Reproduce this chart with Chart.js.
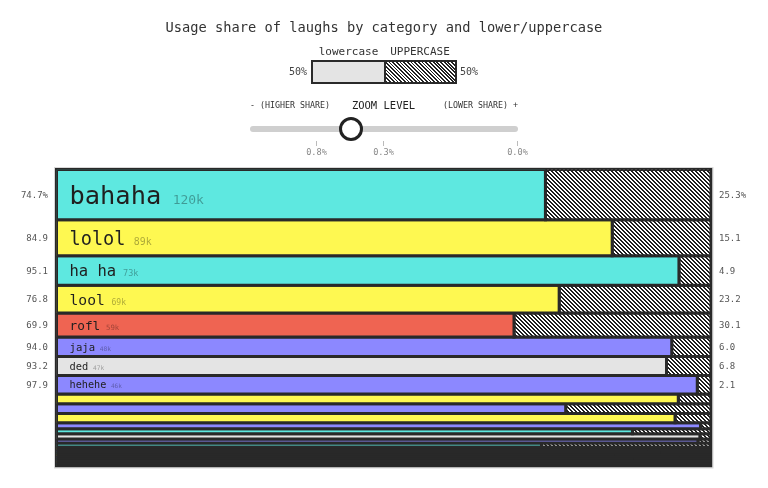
<!DOCTYPE html>
<html>
<head>
<meta charset="utf-8">
<script src="https://cdn.jsdelivr.net/npm/chart.js@4.4.1/dist/chart.umd.min.js"></script>
<style>
  html, body { margin: 0; padding: 0; background: #fff; }
  body { width: 768px; height: 488px; position: relative; overflow: hidden; font-family: "DejaVu Sans Mono", monospace; color: #333; }
  #c { position: absolute; left: 0; top: 0; }
  .abs { position: absolute; white-space: nowrap; }
  .cx { transform: translateX(-50%); }
  #title { left: 0; width: 768px; top: 18px; line-height: 18px; text-align: center; font-size: 13.7px; color: #333; }
  .leg { font-size: 11px; line-height: 14px; top: 45px; color: #333; }
  .pct { font-size: 10px; line-height: 14px; top: 64.5px; color: #444; }
  #box { left: 311px; top: 59.5px; width: 146px; height: 24px; border: 2px solid #2a2a2a; box-sizing: border-box; display: flex; }
  #box .lo { width: 71px; height: 100%; background: #e4e4e4; border-right: 2px solid #2a2a2a; }
  #box .up { flex: 1; height: 100%; background: repeating-linear-gradient(45deg, #222 0 1.3px, #fff 1.3px 2.6px); }
  .zl { font-size: 8.3px; line-height: 12px; top: 98.5px; color: #333; }
  #zoomlvl { font-size: 10.5px; line-height: 14px; top: 97.5px; color: #222; }
  #track { left: 250px; top: 125.5px; width: 268px; height: 6px; border-radius: 3px; background: #cfcfcf; }
  #knob { left: 338.5px; top: 116.5px; width: 24px; height: 24px; border-radius: 50%; border: 3px solid #222; background: #fff; box-sizing: border-box; }
  .tick { top: 141px; width: 1px; height: 5px; background: #bbb; }
  .tl { font-size: 8.6px; line-height: 12px; top: 146px; color: #888; }
</style>
</head>
<body>
<canvas id="c" width="768" height="488" style="width:768px;height:488px"></canvas>

<div id="title" class="abs">Usage share of laughs by category and lower/uppercase</div>
<div class="abs leg cx" style="left:348.5px">lowercase</div>
<div class="abs leg cx" style="left:420px">UPPERCASE</div>
<div class="abs pct" style="right:461px">50%</div>
<div id="box" class="abs"><div class="lo"></div><div class="up"></div></div>
<div class="abs pct" style="left:460px">50%</div>

<div class="abs zl" style="left:250px">- (HIGHER SHARE)</div>
<div id="zoomlvl" class="abs cx" style="left:383.5px">ZOOM LEVEL</div>
<div class="abs zl" style="right:250px">(LOWER SHARE) +</div>
<div id="track" class="abs"></div>
<div class="abs tick" style="left:316px"></div>
<div class="abs tick" style="left:383px"></div>
<div class="abs tick" style="left:517px"></div>
<div id="knob" class="abs"></div>
<div class="abs tl cx" style="left:316.5px">0.8%</div>
<div class="abs tl cx" style="left:383.5px">0.3%</div>
<div class="abs tl cx" style="left:517.5px">0.0%</div>

<script>
// ---- data ----
const categories = ['bahaha', 'lolol', 'ha ha', 'lool', 'rofl', 'jaja', 'ded', 'hehehe',
  '', '', '', '', '', '', '', '',
  '', '', '', '', '', '', '', '', '', '', ''];
// usage counts, thousands
const counts = [124, 89, 73, 69, 59, 48, 47, 46,
  24, 24, 23, 15, 12.5, 12.5, 10, 10,
  6, 6, 5, 5, 5, 4, 4, 4, 3, 3, 2];
// lowercase share, %
const lowerShare = [74.7, 84.9, 95.1, 76.8, 69.9, 94.0, 93.2, 97.9,
  95.0, 77.8, 94.5, 98.4, 88.0, 98.3, 98.0, 74.1,
  90, 92, 85, 95, 88, 93, 80, 96, 90, 94, 89];
// colour group of each category
const groupOf = ['ha', 'lol', 'ha', 'lol', 'rofl', 'other', 'ded', 'other',
  'lol', 'other', 'lol', 'other', 'ha', 'ded', 'other', 'ha',
  'lol', 'other', 'ha', 'lol', 'other', 'ha', 'ded', 'lol', 'other', 'ha', 'lol'];

// ---- styles ----
const groupColors = { ha: '#5ee8e0', lol: '#fef851', rofl: '#ef6452', other: '#8c88ff', ded: '#e4e4e4' };
const FRAME = '#292929';
const MONO = '"DejaVu Sans Mono", monospace';

function makeHatch() {
  const t = document.createElement('canvas');
  t.width = 4; t.height = 4;
  const g = t.getContext('2d');
  g.fillStyle = '#ffffff'; g.fillRect(0, 0, 4, 4);
  g.fillStyle = '#1e1e1e';
  for (let yy = 0; yy < 4; yy++) for (let xx = 0; xx < 4; xx++) {
    if (((xx - yy) % 4 + 4) % 4 < 2) g.fillRect(xx, yy, 1, 1);
  }
  return g.createPattern(t, 'repeat');
}
const hatch = makeHatch();

// cumulative starts
const starts = [];
let acc = 0;
counts.forEach(c => { starts.push(acc); acc += c; });
const total = acc;

function rect(x0, x1, y0, y1) {
  return [{x: x0, y: y0}, {x: x1, y: y0}, {x: x1, y: y1}, {x: x0, y: y1}, {x: x0, y: y0}];
}

const datasets = [];
counts.forEach((c, i) => {
  const y0 = starts[i], y1 = starts[i] + c, p = lowerShare[i];
  const common = { showLine: true, fill: 'shape', borderColor: FRAME, borderWidth: 3, pointRadius: 0, pointHoverRadius: 0, tension: 0, borderJoinStyle: 'miter' };
  datasets.push(Object.assign({ label: (categories[i] || 'row ' + i) + ' lowercase', data: rect(0, p, y0, y1), backgroundColor: groupColors[groupOf[i]] }, common));
  datasets.push(Object.assign({ label: (categories[i] || 'row ' + i) + ' UPPERCASE', data: rect(p, 100, y0, y1), backgroundColor: hatch }, common));
});

function fmtK(v) {
  const r = v >= 100 ? Math.round(v / 10) * 10 : Math.round(v);
  return r + 'k';
}

const framePlugin = {
  id: 'frame',
  beforeDatasetsDraw(chart) {
    const {ctx, chartArea: a} = chart;
    ctx.save();
    ctx.fillStyle = FRAME;
    ctx.fillRect(a.left - 1.5, a.top - 1.5, a.right - a.left + 3, a.bottom - a.top + 3);
    ctx.strokeStyle = '#d8d8d8';
    ctx.lineWidth = 1;
    ctx.strokeRect(a.left - 2, a.top - 2, a.right - a.left + 4, a.bottom - a.top + 4);
    ctx.restore();
  }
};

const labelPlugin = {
  id: 'rowLabels',
  afterDatasetsDraw(chart) {
    const {ctx, chartArea: a, scales: {x, y}} = chart;
    ctx.save();
    categories.forEach((name, i) => {
      const top = y.getPixelForValue(starts[i]);
      const bot = y.getPixelForValue(starts[i] + counts[i]);
      const h = Math.abs(bot - top);
      if (!name || h < 14) return;
      const cy = (top + bot) / 2;
      const fs = h * 0.48 + 1.3;
      const cs = h * 0.22 + 2;
      const base = cy + fs * 0.37;
      const nx = x.getPixelForValue(0) + 13;
      ctx.textBaseline = 'alphabetic';
      ctx.textAlign = 'left';
      ctx.font = fs.toFixed(1) + 'px ' + MONO;
      ctx.fillStyle = '#1f1f1f';
      ctx.fillText(name, nx, base);
      const w = ctx.measureText(name).width;
      ctx.font = cs.toFixed(1) + 'px ' + MONO;
      ctx.fillStyle = 'rgba(0,0,0,0.33)';
      ctx.fillText(fmtK(counts[i]), nx + w + fs * 0.45, base);
      // side shares
      ctx.font = '9px ' + MONO;
      ctx.fillStyle = '#555';
      ctx.textBaseline = 'middle';
      ctx.textAlign = 'right';
      const lo = lowerShare[i].toFixed(1) + (i === 0 ? '%' : '');
      const up = (100 - lowerShare[i]).toFixed(1) + (i === 0 ? '%' : '');
      ctx.fillText(lo, a.left - 8.5, cy + 1);
      ctx.textAlign = 'left';
      ctx.fillText(up, a.right + 8, cy + 1);
    });
    ctx.restore();
  }
};

new Chart(document.getElementById('c'), {
  type: 'scatter',
  data: { datasets },
  options: {
    responsive: false,
    animation: false,
    events: [],
    layout: { padding: { left: 56.5, right: 57, top: 169.5, bottom: 22 } },
    scales: {
      x: { type: 'linear', min: 0, max: 100, display: false },
      y: { type: 'linear', min: 0, max: total, reverse: true, display: false }
    },
    plugins: {
      legend: { display: false },
      tooltip: { enabled: false },
      title: { display: false }
    }
  },
  plugins: [framePlugin, labelPlugin]
});
</script>
</body>
</html>
